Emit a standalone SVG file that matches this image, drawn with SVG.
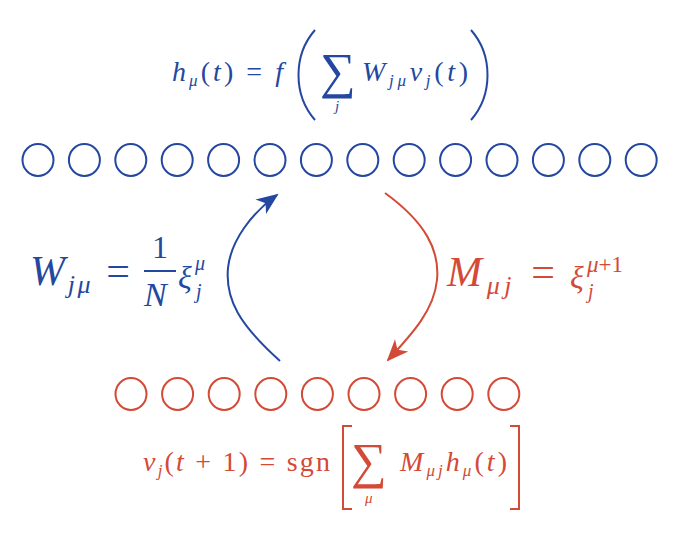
<svg xmlns="http://www.w3.org/2000/svg" width="693" height="541" viewBox="0 0 693 541">
<style>
.b{fill:none;stroke:#2447a0;stroke-width:2}
.r{fill:none;stroke:#d34a36;stroke-width:2}
text{font-family:"Liberation Serif",serif}
.tb{fill:#2447a0}.tr{fill:#d34a36}
.i{font-style:italic}
</style>
<defs>
<marker id="ab" refX="0" refY="0" markerWidth="30" markerHeight="30" orient="auto" markerUnits="userSpaceOnUse" style="overflow:visible"><path d="M2,0 L-20,-9 L-14,0 L-20,9Z" fill="#2447a0"/></marker>
<marker id="ar" refX="0" refY="0" markerWidth="30" markerHeight="30" orient="auto" markerUnits="userSpaceOnUse" style="overflow:visible"><path d="M2,0 L-20,-9 L-14,0 L-20,9Z" fill="#d34a36"/></marker>
</defs>
<g id="top-layer" class="b">
<ellipse cx="38" cy="160" rx="15.5" ry="16"/><ellipse cx="84.4" cy="160" rx="15.5" ry="16"/><ellipse cx="130.8" cy="160" rx="15.5" ry="16"/><ellipse cx="177.2" cy="160" rx="15.5" ry="16"/><ellipse cx="223.6" cy="160" rx="15.5" ry="16"/><ellipse cx="270" cy="160" rx="15.5" ry="16"/><ellipse cx="316.4" cy="160" rx="15.5" ry="16"/><ellipse cx="362.8" cy="160" rx="15.5" ry="16"/><ellipse cx="409.2" cy="160" rx="15.5" ry="16"/><ellipse cx="455.6" cy="160" rx="15.5" ry="16"/><ellipse cx="502" cy="160" rx="15.5" ry="16"/><ellipse cx="548.4" cy="160" rx="15.5" ry="16"/><ellipse cx="594.8" cy="160" rx="15.5" ry="16"/><ellipse cx="641.2" cy="160" rx="15.5" ry="16"/>
</g>
<g id="bottom-layer" class="r">
<ellipse cx="131" cy="394" rx="15.5" ry="16"/><ellipse cx="177.6" cy="394" rx="15.5" ry="16"/><ellipse cx="224.2" cy="394" rx="15.5" ry="16"/><ellipse cx="270.8" cy="394" rx="15.5" ry="16"/><ellipse cx="317.4" cy="394" rx="15.5" ry="16"/><ellipse cx="364" cy="394" rx="15.5" ry="16"/><ellipse cx="410.6" cy="394" rx="15.5" ry="16"/><ellipse cx="457.2" cy="394" rx="15.5" ry="16"/><ellipse cx="503.8" cy="394" rx="15.5" ry="16"/>
</g>
<g id="connectors">
<path class="b" d="M280,361 C240,325 225,300 228,268 C231,240 252,213 277,195" marker-end="url(#ab)"/>
<path class="r" d="M385,193 C425,222 440,250 437,280 C434,310 413,333 388,360" marker-end="url(#ar)"/>
</g>
<g id="formula-top" class="tb" font-size="28">
<text x="172" y="81" textLength="111" lengthAdjust="spacing"><tspan class="i">h</tspan><tspan class="i" font-size="17" dy="5">μ</tspan><tspan dy="-5">(</tspan><tspan class="i">t</tspan>) = <tspan class="i">f</tspan></text>
<path d="M315,30 C293,55 293,95 315,120" class="b"/>
<text x="320" y="88" font-size="50">∑</text>
<text x="335" y="111" class="i" font-size="15">j</text>
<text x="362" y="81" textLength="106" lengthAdjust="spacing"><tspan class="i">W</tspan><tspan class="i" font-size="17" dy="5">jμ</tspan><tspan class="i" dy="-5">v</tspan><tspan class="i" font-size="17" dy="5">j</tspan><tspan dy="-5">(</tspan><tspan class="i">t</tspan>)</text>
<path d="M471,30 C493,55 493,95 471,120" class="b"/>
</g>
<g id="label-W" class="tb" font-size="42">
<text x="30" y="285" textLength="100" lengthAdjust="spacing"><tspan class="i">W</tspan><tspan class="i" font-size="26" dy="8">jμ</tspan><tspan dy="-8"> =</tspan></text>
<text x="152" y="258" font-size="32">1</text>
<line x1="144" y1="271" x2="176" y2="271" stroke="#2447a0" stroke-width="2"/>
<text x="144" y="306" class="i" font-size="34">N</text>
<text x="178" y="288" class="i" font-size="32">ξ</text>
<text x="195" y="270" class="i" font-size="20">μ</text>
<text x="196" y="298" class="i" font-size="20">j</text>
</g>
<g id="label-M" class="tr" font-size="42">
<text x="447" y="286" textLength="108" lengthAdjust="spacing"><tspan class="i">M</tspan><tspan class="i" font-size="26" dy="8">μj</tspan><tspan dy="-8"> =</tspan></text>
<text x="570" y="288" class="i" font-size="32">ξ</text>
<text x="587" y="272" font-size="23"><tspan class="i">μ</tspan>+1</text>
<text x="588" y="298" class="i" font-size="20">j</text>
</g>
<g id="formula-bottom" class="tr" font-size="28">
<text x="143" y="471" textLength="187" lengthAdjust="spacing"><tspan class="i">v</tspan><tspan class="i" font-size="17" dy="5">j</tspan><tspan dy="-5">(</tspan><tspan class="i">t</tspan> + 1) = sgn</text>
<path d="M352,426 H343 V509 H352" class="r"/>
<text x="351" y="478" font-size="50">∑</text>
<text x="365" y="503" class="i" font-size="15">μ</text>
<text x="400" y="471" textLength="107" lengthAdjust="spacing"><tspan class="i">M</tspan><tspan class="i" font-size="17" dy="5">μj</tspan><tspan class="i" dy="-5">h</tspan><tspan class="i" font-size="17" dy="5">μ</tspan><tspan dy="-5">(</tspan><tspan class="i">t</tspan>)</text>
<path d="M510,426 H519 V509 H510" class="r"/>
</g>
</svg>
